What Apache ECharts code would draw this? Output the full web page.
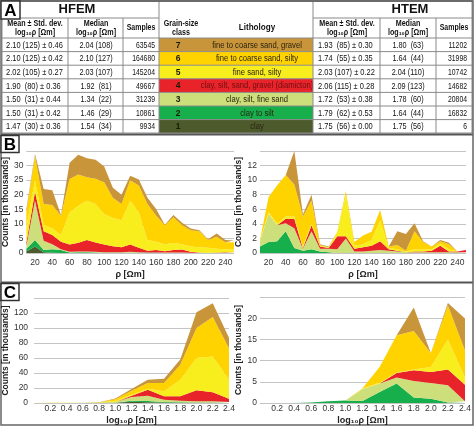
<!DOCTYPE html>
<html>
<head>
<meta charset="utf-8">
<script src="https://cdn.jsdelivr.net/npm/echarts@6/dist/echarts.min.js"></script>
<style>
  html, body { margin: 0; padding: 0; background: #fff; }
  #chart { width: 474px; height: 426px; }
</style>
</head>
<body>
<div id="chart"></div>
<script>
// grain-size classes 1..7 (bottom to top of every stack)
const classColors = ['#4d5a2c', '#17ae4c', '#cddf7a', '#e8232a', '#f8ee1e', '#ffd300', '#c9953a'];

// table A (rows from class 7 down to class 1)
const tableClasses = [7, 6, 5, 4, 3, 2, 1];
const lithology = ['fine to coarse sand, gravel', 'fine to coarse sand, silty', 'fine sand, silty',
  'clay, silt, sand, gravel (diamicton)', 'clay, silt, fine sand', 'clay to silt', 'clay'];
const hfemMean = ['2.10 (125) ± 0.46', '2.10 (125) ± 0.42', '2.02 (105) ± 0.27', '1.90  (80) ± 0.36',
  '1.50  (31) ± 0.44', '1.50  (31) ± 0.42', '1.47  (30) ± 0.36'];
const hfemMedian = ['2.04 (108)', '2.10 (127)', '2.03 (107)', '1.92  (81)', '1.34  (22)', '1.46  (29)', '1.54  (34)'];
const hfemSamples = [63545, 164680, 145204, 49667, 31239, 10861, 9934];
const htemMean = ['1.93  (85) ± 0.30', '1.74  (55) ± 0.35', '2.03 (107) ± 0.22', '2.06 (115) ± 0.28',
  '1.72  (53) ± 0.38', '1.79  (62) ± 0.53', '1.75  (56) ± 0.00'];
const htemMedian = ['1.80  (63)', '1.64  (44)', '2.04 (110)', '2.09 (123)', '1.78  (60)', '1.64  (44)', '1.75  (56)'];
const htemSamples = [11202, 31998, 10742, 14682, 20804, 16832, 6];

// panel B: counts (thousands) per rho bin, one row per class 1..7
const rhoCats = ['10','20','30','40','50','60','70','80','90','100','110','120','130','140','150','160','170','180','190','200','210','220','230','240','250'];
const hfemRho = [
  [0.5, 2.2, 0.3, 0.1, 0, 0, 0, 0, 0, 0, 0, 0, 0, 0, 0, 0, 0, 0, 0, 0, 0, 0, 0, 0, 0],
  [1.0, 2.3, 0.7, 1.2, 1.0, 0.2, 0.3, 0.3, 0.2, 0.1, 0.1, 0.1, 0.1, 0.1, 0.1, 0.1, 0, 0, 0, 0, 0, 0, 0, 0, 0],
  [1.0, 13.5, 3.2, 1.7, 0.3, 0.2, 0.2, 0.2, 0.2, 0.2, 0.2, 0.2, 0.3, 0.2, 0.1, 0.1, 0.2, 0.2, 0.2, 0.1, 0.1, 0.1, 0.1, 0.1, 0.1],
  [1.0, 3.0, 3.3, 3.2, 2.6, 2.5, 3.0, 4.0, 3.2, 2.6, 2.0, 1.7, 2.5, 1.5, 0.6, 0.8, 0.4, 0.8, 1.0, 0.3, 0.1, 0, 0.1, 0.2, 0.2],
  [5.5, 4.0, 2.2, 2.2, 2.3, 11.1, 12.7, 13.4, 13.2, 10.5, 9.7, 9.2, 15.0, 12.2, 3.7, 2.9, 2.4, 2.4, 1.8, 1.8, 1.8, 1.7, 1.3, 1.0, 0.9],
  [5.0, 8.3, 7.1, 8.1, 6.6, 11.4, 10.7, 8.1, 8.7, 10.9, 7.0, 5.6, 7.1, 9.2, 12.3, 9.0, 6.5, 8.9, 6.5, 5.6, 5.5, 2.7, 4.1, 2.4, 2.5],
  [1.0, 0.7, 5.2, 5.0, 0.2, 5.6, 6.8, 6.5, 6.5, 5.4, 3.4, 3.2, 1.5, 2.0, 2.2, 2.2, 0.2, 0.7, 0.9, 0.6, 0.3, 0.2, 1.1, 0.8, 0.6]
];
const htemRho = [
  [0, 0, 0, 0, 0, 0, 0, 0, 0, 0, 0, 0, 0, 0, 0, 0, 0, 0, 0, 0, 0, 0, 0, 0, 0],
  [0.9, 1.5, 1.6, 3.0, 0.7, 0.3, 0.5, 0.2, 0.1, 0, 0, 0, 0, 0, 0, 0, 0, 0, 0, 0, 0, 0, 0, 0, 0],
  [0.7, 3.9, 2.2, 1.1, 2.7, 0.3, 2.5, 0.4, 0.5, 0.5, 2.0, 0.2, 0.2, 0.3, 0.4, 0.3, 0.2, 0.1, 0.1, 0.1, 0.1, 0.1, 0.1, 0.1, 0.1],
  [0, 0, 0, 0.6, 1.3, 0.1, 0.8, 0.3, 0.1, 1.8, 0.3, 0.4, 0.6, 0.7, 1.2, 0.2, 0.1, 0, 0.1, 0.1, 0.2, 0.9, 0.1, 0.1, 0.3],
  [0.1, 0.2, 0.2, 0.3, 0.3, 0.2, 0.2, 0.1, 0.1, 0.6, 5.7, 0.4, 0.4, 0.8, 2.9, 0.2, 0.2, 0.1, 0.3, 0.3, 0.2, 0.3, 0.3, 0, 0.1],
  [0.1, 2.1, 5.3, 5.7, 4.4, 4.1, 3.2, 0.1, 0, 0, 0.5, 0.5, 1.2, 1.1, 1.4, 0.2, 0.6, 0.1, 2.5, 1.0, 0.4, 0.3, 0.7, 0, 0],
  [0, 0, 0, 0, 4.6, 0.3, 0.8, 0.1, 0.1, 0, 0, 0, 0, 0, 0, 0, 1.9, 2.3, 1.1, 0.1, 0, 0.2, 0.2, 0, 0]
];

// panel C: counts (thousands) per log10 rho bin
const logCats = ['0.0','0.2','0.4','0.6','0.8','1.0','1.2','1.4','1.6','1.8','2.0','2.2','2.4'];
const hfemLog = [
  [0, 0, 0, 0.1, 0.2, 0.3, 1.8, 1.0, 0.7, 0.5, 0.5, 0.5, 0.3],
  [0, 0, 0, 0, 0.1, 0.2, 1.3, 1.7, 0.8, 0.5, 0.3, 0.1, 0.1],
  [0, 0.1, 0.1, 0.1, 0.1, 0.7, 4.9, 7.1, 2.9, 2.1, 1.7, 1.9, 1.1],
  [0, 0, 0, 0, 0.1, 0.3, 1.8, 8.0, 4.5, 5.8, 14.4, 11.7, 4.3],
  [0, 0, 0.1, 0.1, 0.2, 1.5, 1.2, 1.2, 6.7, 22.1, 43.1, 47.8, 25.2],
  [0, 0.1, 0.1, 0.1, 0.2, 2.0, 5.4, 7.7, 11.1, 20, 40, 52.7, 42],
  [0, 0, 0, 0, 0.1, 1.0, 2.3, 4.3, 5.7, 7, 21, 18.3, 14]
];
const htemLog = [
  [0, 0, 0, 0, 0, 0, 0, 0, 0, 0, 0, 0, 0],
  [0, 0, 0, 0.1, 0.4, 0.6, 0.5, 2.6, 4.6, 1.3, 1.0, 0.1, 0],
  [0, 0, 0, 0, 0, 0, 2.8, 2.0, 1.4, 3.9, 3.7, 4.1, 0.4],
  [0, 0, 0, 0, 0, 0, 0, 0, 1.1, 2.5, 2.6, 3.7, 3.9],
  [0, 0, 0, 0, 0, 0, 0.1, 0.2, 0.1, 0.2, 1.2, 7.1, 1.7],
  [0, 0, 0, 0, 0, 0, 0.1, 3.7, 8.8, 9.1, 3.3, 8.0, 6.4],
  [0, 0, 0, 0, 0, 0, 0, 0, 0, 5.5, 0, 0.6, 7.5]
];

const FONT = 'Arial, "Liberation Sans", sans-serif';
const chart = echarts.init(document.getElementById('chart'));

// ---- table A as graphic elements ----
const colX = [2, 68, 123, 159, 313, 380, 436, 472];
const rowTop = 38, rowH = 13.6;
const g = [];
const line = (x1, y1, x2, y2, w, c) => g.push({ type: 'line', shape: { x1, y1, x2, y2 }, style: { stroke: c || '#8a8a8a', lineWidth: w || 1 } });
// sx squeezes the text horizontally (the original uses a narrow face)
const txt = (text, x, y, font, align, fill, sx) => g.push({ type: 'text', x, y, scaleX: sx || 1,
  style: { text, font, align: align || 'center', verticalAlign: 'middle', fill: fill || '#111' } });

tableClasses.forEach((c, i) => {
  const y = rowTop + i * rowH;
  g.push({ type: 'rect', shape: { x: 159, y, width: 154, height: rowH }, style: { fill: classColors[c - 1] } });
  const ym = y + rowH / 2 + 0.5;
  txt(hfemMean[i], 6, ym, '9px ' + FONT, 'left', '#111', 0.83);
  txt(hfemMedian[i], 96, ym, '9px ' + FONT, 'center', '#111', 0.81);
  txt(String(hfemSamples[i]), 155, ym, '9px ' + FONT, 'right', '#111', 0.76);
  txt(String(c), 178, ym, 'bold 8.5px ' + FONT, 'center', '#1a1a00');
  txt(lithology[i], 257, ym, '8.5px ' + FONT, 'center', c === 4 ? '#6e0f12' : '#2a2410', 0.9);
  txt(htemMean[i], 318, ym, '9px ' + FONT, 'left', '#111', 0.83);
  txt(htemMedian[i], 408, ym, '9px ' + FONT, 'center', '#111', 0.81);
  txt(String(htemSamples[i]), 467, ym, '9px ' + FONT, 'right', '#111', 0.76);
  line(2, y, 472, y);
});
line(2, 133, 472, 133);
line(20, 18, 159, 18);
line(313, 18, 472, 18);
colX.forEach((x, i) => {
  const top = (i === 0 || i === 3 || i === 4 || i === 7) ? 1 : 18;
  line(x, top, x, 133);
});
// header texts
txt('HFEM', 77, 9, 'bold 13px ' + FONT);
txt('HTEM', 410, 9, 'bold 13px ' + FONT);
[[35, 'Mean ± Std. dev.', 'log₁₀ρ [Ωm]'], [96, 'Median', 'log₁₀ρ [Ωm]'], [347, 'Mean ± Std. dev.', 'log₁₀ρ [Ωm]'], [408, 'Median', 'log₁₀ρ [Ωm]'],
 [181, 'Grain-size', 'class']].forEach(h => {
  txt(h[1], h[0], 24, 'bold 8.5px ' + FONT, 'center', '#111', 0.84);
  txt(h[2], h[0], 32.5, 'bold 8.5px ' + FONT, 'center', '#111', 0.84);
});
txt('Samples', 141, 28, 'bold 8.5px ' + FONT, 'center', '#111', 0.82);
txt('Samples', 454, 28, 'bold 8.5px ' + FONT, 'center', '#111', 0.82);
txt('Lithology', 257, 28, 'bold 9px ' + FONT, 'center', '#111', 0.9);

// frames and panel letters
line(1, 1, 473, 1, 1.5, '#555');
line(1, 134.5, 473, 134.5, 2, '#555');
line(1, 282.5, 473, 282.5, 2, '#555');
g.push({ type: 'rect', shape: { x: 1, y: 1, width: 472, height: 424 }, style: { fill: 'none', stroke: '#666', lineWidth: 1.5 } });
[['A', 1, 20, 18], ['B', 135.5, 19, 17], ['C', 283.5, 19, 17]].forEach(l => {
  g.push({ type: 'rect', shape: { x: 1, y: l[1], width: l[2] - 1, height: l[3] }, style: { fill: '#fff', stroke: '#333', lineWidth: 1.5 } });
  txt(l[0], 1 + (l[2] - 1) / 2, l[1] + l[3] / 2 + 1, 'bold 17px ' + FONT, 'center', '#000');
});

// ---- charts B and C ----
const grids = [
  { left: 24, top: 151, width: 210, height: 102 },
  { left: 260, top: 151, width: 206, height: 102 },
  { left: 31, top: 298, width: 198, height: 105 },
  { left: 260, top: 297, width: 205, height: 106 }
];
const yMax = [35, 14, 140, 25], yStep = [5, 2, 20, 5], yGap = [14, 14, 22, 14], yMargin = [3, 3, 6, 3];
const panels = [hfemRho, htemRho, hfemLog, htemLog];

const xAxes = grids.map((gr, i) => ({
  type: 'category', gridIndex: i, boundaryGap: false,
  data: i < 2 ? rhoCats : logCats,
  axisLine: { show: false }, axisTick: { show: false },
  axisLabel: {
    interval: i < 2 ? (idx) => idx % 2 === 1 : (idx) => idx > 0,
    fontSize: 8.5, color: '#333', margin: i < 2 ? 5 : 1, fontFamily: FONT
  },
  name: i < 2 ? 'ρ [Ωm]' : 'log₁₀ρ [Ωm]', nameLocation: 'middle', nameGap: i < 2 ? 17 : 13,
  nameTextStyle: { fontWeight: 'bold', fontSize: 9, color: '#222', fontFamily: FONT }
}));
const yAxes = grids.map((gr, i) => ({
  type: 'value', gridIndex: i, min: 0, max: yMax[i], interval: yStep[i],
  axisLine: { show: false }, axisTick: { show: false },
  axisLabel: { fontSize: 8.5, color: '#333', margin: yMargin[i], showMaxLabel: false, fontFamily: FONT },
  splitLine: { lineStyle: { color: '#c4c4c4', width: 1 } },
  name: 'Counts [in thousands]', nameLocation: 'middle', nameRotate: 90, nameGap: yGap[i],
  nameTextStyle: { fontWeight: 'bold', fontSize: 8.5, color: '#222', fontFamily: FONT }
}));
const series = [];
panels.forEach((rows, p) => {
  rows.forEach((vals, k) => {
    series.push({
      type: 'line', xAxisIndex: p, yAxisIndex: p, stack: 'panel' + p,
      data: vals, symbol: 'none', silent: true,
      lineStyle: { width: 0 }, itemStyle: { color: classColors[k] },
      areaStyle: { color: classColors[k], opacity: 1 }
    });
  });
});

chart.setOption({
  animation: false,
  textStyle: { fontFamily: FONT },
  grid: grids,
  xAxis: xAxes,
  yAxis: yAxes,
  series,
  graphic: g
});
</script>
</body>
</html>
